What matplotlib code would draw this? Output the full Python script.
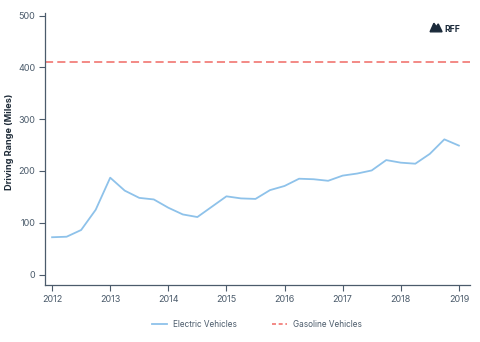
import matplotlib
matplotlib.use("Agg")
import matplotlib.pyplot as plt
from matplotlib.patches import Polygon
from matplotlib.lines import Line2D

plt.rcParams['font.family'] = ['Inter', 'DejaVu Sans']

# quarterly driving range, electric vehicles
quarters = [2012 + 0.25 * i for i in range(29)]
electric = [72, 73, 86, 125, 187, 162, 148, 145, 129, 116, 111, 131, 151,
            147, 146, 163, 171, 185, 184, 181, 191, 195, 201, 221, 216,
            214, 233, 261, 249]
gasoline = 410
year_ticks = [2012, 2013, 2014, 2015, 2016, 2017, 2018, 2019]
range_ticks = [0, 100, 200, 300, 400, 500]

ink = '#4b5b6b'
blue = '#8ec2ea'
red = '#f2807c'

fig = plt.figure(figsize=(4.8, 3.42), dpi=100)
ax = fig.add_axes([0.094, 0.167, 0.885, 0.795])

ax.plot(quarters, electric, color=blue, lw=1.3)
ax.axhline(gasoline, color=red, lw=1.3, ls=(0, (4.5, 2.3)))

ax.set_xlim(2011.88, 2019.19)
ax.set_ylim(-20, 505)
ax.set_xticks(year_ticks)
ax.set_yticks(range_ticks)
ax.tick_params(colors=ink, labelsize=6.5, length=4, width=0.8, pad=3)
for side in ['top', 'right']:
    ax.spines[side].set_visible(False)
for side in ['left', 'bottom']:
    ax.spines[side].set_color(ink)
    ax.spines[side].set_linewidth(0.9)
ax.set_ylabel('Driving Range (Miles)', fontsize=6.6, fontweight='bold',
              color='#1e2b38')
ax.yaxis.set_label_coords(-0.074, 0.526)

# legend handles with shorter dashes, like the original
handles = [Line2D([], [], color=blue, lw=1.3),
           Line2D([], [], color=red, lw=1.3, ls=(0, (2.2, 1.5)))]
fig.legend(handles, ['Electric Vehicles', 'Gasoline Vehicles'],
           loc='center', bbox_to_anchor=(0.535, 0.052), ncol=2, frameon=False,
           fontsize=5.9, labelcolor=ink, handlelength=1.9, handletextpad=0.7,
           columnspacing=4.2)

# RFF logo
fig.add_artist(Polygon([[0.896, 0.907], [0.904, 0.932], [0.909, 0.922],
                        [0.913, 0.930], [0.921, 0.907]],
                       closed=True, transform=fig.transFigure, color='#1b2a3a'))
fig.text(0.925, 0.907, 'RFF', fontsize=6.2, fontweight='bold', color='#1b2a3a')

fig.savefig('out.png', dpi=100)
